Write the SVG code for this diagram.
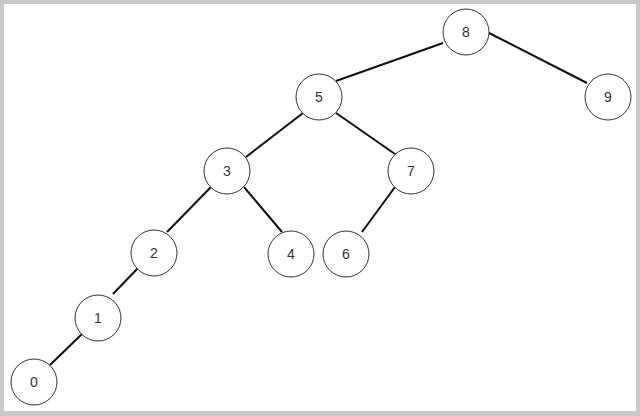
<svg xmlns="http://www.w3.org/2000/svg" width="640" height="416" viewBox="0 0 640 416">
<style>
.node circle{fill:#fff;stroke:#333;stroke-width:1}
.node text{font-family:"Liberation Sans",Arial,sans-serif;font-size:14px;fill:#333;text-anchor:middle;dominant-baseline:central}
.edges line{stroke:#111;stroke-width:2}
</style>
<rect x="0" y="0" width="640" height="416" fill="#c8c8c8"/>
<rect x="4" y="4" width="632" height="407" fill="#fff"/>
<g class="edges">
<line x1="489" y1="33" x2="587" y2="83"/>
<line x1="443" y1="43" x2="336" y2="81"/>
<line x1="303" y1="113" x2="246" y2="157"/>
<line x1="336" y1="113" x2="395" y2="154"/>
<line x1="211" y1="187" x2="167" y2="232"/>
<line x1="244" y1="187" x2="282" y2="232"/>
<line x1="395" y1="187" x2="362" y2="232"/>
<line x1="138" y1="268" x2="113" y2="294"/>
<line x1="83" y1="333" x2="50" y2="365"/>
</g>
<g id="n8" class="node"><circle cx="466" cy="32" r="23"/><text x="466" y="32">8</text></g>
<g id="n5" class="node"><circle cx="319" cy="97" r="23"/><text x="319" y="97">5</text></g>
<g id="n9" class="node"><circle cx="608" cy="97" r="23"/><text x="608" y="97">9</text></g>
<g id="n3" class="node"><circle cx="227" cy="171" r="23"/><text x="227" y="171">3</text></g>
<g id="n7" class="node"><circle cx="411" cy="171" r="23"/><text x="411" y="171">7</text></g>
<g id="n2" class="node"><circle cx="154" cy="253" r="23"/><text x="154" y="253">2</text></g>
<g id="n4" class="node"><circle cx="291" cy="254" r="23"/><text x="291" y="254">4</text></g>
<g id="n6" class="node"><circle cx="346" cy="254" r="23"/><text x="346" y="254">6</text></g>
<g id="n1" class="node"><circle cx="98" cy="318" r="23"/><text x="98" y="318">1</text></g>
<g id="n0" class="node"><circle cx="34" cy="382" r="23"/><text x="34" y="382">0</text></g>
</svg>
